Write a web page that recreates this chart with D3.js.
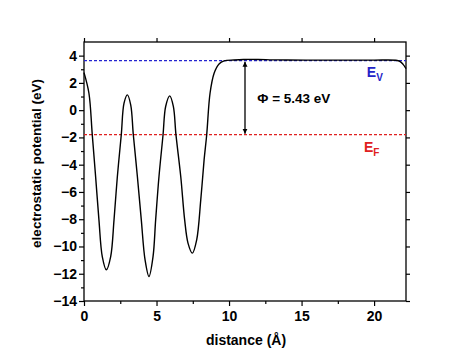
<!DOCTYPE html>
<html>
<head>
<meta charset="utf-8">
<script src="https://cdn.jsdelivr.net/npm/d3@7"></script>
<style>
body { margin: 0; background: #fff; }
text { font-family: Arial, "Liberation Sans", sans-serif; font-weight: bold; }
</style>
</head>
<body>
<script>
// SVG size
var width = 474,
	height = 362;

// curve
var distance = [0, 0.34, 0.57, 0.8, 1.03, 1.26, 1.54,
	1.84, 2.07, 2.3, 2.57, 2.76, 2.99,
	3.22, 3.4, 3.68, 3.95, 4.21, 4.48,
	4.76, 4.94, 5.17, 5.45, 5.63, 5.91,
	6.16, 6.34, 6.67, 6.94, 7.17, 7.47,
	7.77, 8.05, 8.28, 8.46, 8.69, 8.97, 9.31, 9.66, 10.34,
	11, 12, 13, 14, 16, 18, 20, 21.5, 21.8, 22.0, 22.2];
var potential = [2.75, 1.24, -1.8, -4.87, -8.05, -10.74, -11.71,
	-10.74, -8.05, -4.87, -1.8, 0.51, 1.12,
	0.39, -1.8, -4.87, -8.05, -10.98, -12.2,
	-10.74, -8.05, -4.87, -1.8, 0.27, 1.05,
	0.27, -1.8, -4.87, -8.05, -9.75, -10.49,
	-9.51, -6.58, -3.65, -1.8, 1.24, 2.71, 3.39, 3.61, 3.68,
	3.72, 3.72, 3.69, 3.68, 3.67, 3.67, 3.67, 3.66, 3.56, 3.36, 3.05];

var vacuumLevel = 3.63;
var fermiLevel = -1.8;
var workFunction = "Φ = 5.43 eV";

var xTicks = [0, 5, 10, 15, 20];
var yTicks = [-14, -12, -10, -8, -6, -4, -2, 0, 2, 4];

var margin = {top: 42, right: 68, bottom: 61, left: 84};
var w = width - margin.left - margin.right,
	h = height - margin.top - margin.bottom;

var svg = d3.select("body").append("svg")
	.attr("width", width)
	.attr("height", height)
	.append("g")
	.attr("transform", "translate(" + margin.left + "," + margin.top + ")");

var xScale = d3.scaleLinear().domain([0, 22.2]).range([0, w]);
var yScale = d3.scaleLinear().domain([-14, 5]).range([h, 0]);

// minor ticks
var xMinor = d3.range(0, 22.2, 2.5).filter(function(d){ return xTicks.indexOf(d) < 0; });
var yMinor = d3.range(-13, 5, 2);

// axes
var xAxis = d3.axisBottom(xScale).tickValues(xTicks).tickSize(5).tickSizeOuter(0);
var yAxis = d3.axisLeft(yScale).tickValues(yTicks).tickSize(5).tickSizeOuter(0);

svg.append("g").attr("transform", "translate(0," + h + ")")
	.call(d3.axisBottom(xScale).tickValues(xMinor).tickSize(3).tickSizeOuter(0).tickFormat(""));
svg.append("g")
	.call(d3.axisLeft(yScale).tickValues(yMinor).tickSize(3).tickSizeOuter(0).tickFormat(""));
svg.append("g").attr("transform", "translate(" + w + ",0)")
	.call(d3.axisLeft(yScale).tickValues(yTicks).tickSize(-4).tickSizeOuter(0).tickFormat(""));
svg.append("g")
	.call(d3.axisBottom(xScale).tickValues(xTicks).tickSize(-4).tickSizeOuter(0).tickFormat(""));

var gx = svg.append("g").attr("transform", "translate(0," + h + ")").call(xAxis);
var gy = svg.append("g").call(yAxis);

svg.selectAll(".domain").remove();
svg.selectAll(".tick line").attr("stroke", "#000").attr("stroke-width", 1.2);
gx.selectAll("text").attr("font-size", 14).attr("font-weight", "bold").attr("font-family", "Arial, Liberation Sans, sans-serif").attr("dy", "0.85em");
gy.selectAll("text").attr("font-size", 14).attr("font-weight", "bold").attr("font-family", "Arial, Liberation Sans, sans-serif").attr("x", -7);

// frame
svg.append("rect")
	.attr("width", w).attr("height", h)
	.attr("fill", "none").attr("stroke", "#000").attr("stroke-width", 1.3);

// reference levels
svg.append("line")
	.attr("x1", 0).attr("x2", w)
	.attr("y1", yScale(vacuumLevel)).attr("y2", yScale(vacuumLevel))
	.attr("stroke", "#2424d0").attr("stroke-width", 1.3).attr("stroke-dasharray", "3,2");
svg.append("line")
	.attr("x1", 0).attr("x2", w)
	.attr("y1", yScale(fermiLevel)).attr("y2", yScale(fermiLevel))
	.attr("stroke", "#e02020").attr("stroke-width", 1.3).attr("stroke-dasharray", "3,2");

// potential curve
var line = d3.line()
	.x(function(d){ return xScale(d[0]); })
	.y(function(d){ return yScale(d[1]); })
	.curve(d3.curveCatmullRom.alpha(0.5));
svg.append("path")
	.datum(d3.zip(distance, potential))
	.attr("d", line)
	.attr("fill", "none").attr("stroke", "#000").attr("stroke-width", 1.4);

// arrow for work function
var defs = svg.append("defs");
defs.append("marker").attr("id", "head")
	.attr("viewBox", "0 0 10 10").attr("refX", 10).attr("refY", 5)
	.attr("markerWidth", 5).attr("markerHeight", 7).attr("markerUnits", "userSpaceOnUse")
	.attr("orient", "auto-start-reverse")
	.append("path").attr("d", "M0,0L10,5L0,10z").attr("fill", "#000");

svg.append("line")
	.attr("x1", xScale(11.1)).attr("x2", xScale(11.1))
	.attr("y1", yScale(vacuumLevel) + 1).attr("y2", yScale(fermiLevel) - 1)
	.attr("stroke", "#000").attr("stroke-width", 1.3)
	.attr("marker-start", "url(#head)").attr("marker-end", "url(#head)");

svg.append("text")
	.attr("x", xScale(11.95)).attr("y", yScale(0.5))
	.attr("font-size", 13.5)
	.text(workFunction);

// level labels
var ev = svg.append("text").attr("x", xScale(19.5)).attr("y", yScale(vacuumLevel) + 16)
	.attr("font-size", 14).attr("fill", "#2424c8");
ev.append("tspan").text("E");
ev.append("tspan").attr("dy", 4).attr("font-size", 10).text("V");

var ef = svg.append("text").attr("x", xScale(19.3)).attr("y", yScale(fermiLevel) + 17)
	.attr("font-size", 14).attr("fill", "#e02020");
ef.append("tspan").text("E");
ef.append("tspan").attr("dy", 4).attr("font-size", 10).text("F");

// axis labels
svg.append("text")
	.attr("text-anchor", "middle")
	.attr("transform", "translate(" + (w / 2 + 1) + "," + (h + 44) + ")")
	.attr("font-size", 14)
	.text("distance (Å)");
svg.append("text")
	.attr("text-anchor", "middle")
	.attr("transform", "translate(-43," + (h / 2 - 8) + ") rotate(-90)")
	.attr("font-size", 13.5)
	.text("electrostatic potential (eV)");
</script>
</body>
</html>
